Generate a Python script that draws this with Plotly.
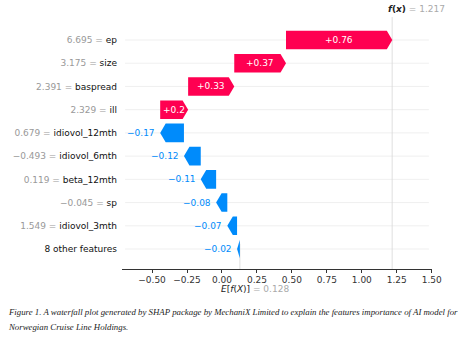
import plotly.graph_objects as go

# ---------------- data ----------------
features = ["ep", "size", "baspread", "ill", "idiovol_12mth", "idiovol_6mth",
            "beta_12mth", "sp", "idiovol_3mth", "8 other features"]
feature_values = ["6.695", "3.175", "2.391", "2.329", "0.679", "\u22120.493",
                  "0.119", "\u22120.045", "1.549", None]
shap_values = [0.76, 0.37, 0.33, 0.2, -0.17, -0.12, -0.11, -0.08, -0.07, -0.02]
base_value = 0.128
fx_value = 1.217
x_ticks = [-0.5, -0.25, 0.0, 0.25, 0.5, 0.75, 1.0, 1.25, 1.5]
caption_lines = [
    "Figure 1. A waterfall plot generated by SHAP package by MechaniX Limited to explain the features importance of AI model for",
    "Norwegian Cruise Line Holdings.",
]

# ---------------- styling ----------------
RED = "#ff0051"
BLUE = "#008bfb"
FONT = "DejaVu Sans"
W, H = 474, 348
ML, MR, MT, MB = 122, 42, 17, 79
XR = [-0.715, 1.502]
YR = [-0.86, 9.99]
px_per_unit = (W - ML - MR) / (XR[1] - XR[0])
head = 5.5 / px_per_unit
bh = 0.8

n = len(features)
ys = [n - 1 - i for i in range(n)]
starts = [0.0] * n
ends = [0.0] * n
cur = base_value
for i in range(n - 1, -1, -1):
    starts[i] = cur
    cur += shap_values[i]
    ends[i] = cur


def fmt(v):
    s = "{:+.2f}".format(v).rstrip("0").rstrip(".")
    return s.replace("-", "\u2212")


fig = go.Figure()
annotations = []
for i in range(n):
    s, e, y, v = starts[i], ends[i], ys[i], shap_values[i]
    d = 1 if v > 0 else -1
    color = RED if v > 0 else BLUE
    hl = min(head, abs(v))
    neck = e - d * hl
    xs = [s, neck, e, neck, s, s]
    yy = [y - bh / 2, y - bh / 2, y, y + bh / 2, y + bh / 2, y - bh / 2]
    fig.add_trace(go.Scatter(x=xs, y=yy, fill="toself", fillcolor=color,
                             line=dict(width=0), mode="lines",
                             hoverinfo="skip", showlegend=False))
    txt = fmt(v)
    bar_px = abs(v) * px_per_unit - hl * px_per_unit
    if bar_px > len(txt) * 5.2:
        annotations.append(dict(x=(s + e) / 2, y=y, xref="x", yref="y",
                                text=txt, showarrow=False,
                                font=dict(family=FONT, size=9, color="white")))
    else:
        if v < 0:
            annotations.append(dict(x=e, y=y, xref="x", yref="y", text=txt,
                                    showarrow=False, xanchor="right", xshift=-3,
                                    font=dict(family=FONT, size=9, color=BLUE)))
        else:
            annotations.append(dict(x=e, y=y, xref="x", yref="y", text=txt,
                                    showarrow=False, xanchor="left", xshift=3,
                                    font=dict(family=FONT, size=9, color=RED)))

ticktext = []
for f, fv in zip(features, feature_values):
    if fv is None:
        ticktext.append(f"<span style='color:#111'>{f}</span>")
    else:
        ticktext.append(f"<span style='color:#999'>{fv} = </span><span style='color:#111'>{f}</span>")

shapes = []
for y in ys:
    shapes.append(dict(type="line", xref="paper", yref="y", x0=0.01, x1=0.99,
                       y0=y, y1=y, line=dict(color="#e4e4e4", width=0.6),
                       layer="below"))
shapes.append(dict(type="line", xref="x", yref="paper", x0=fx_value, x1=fx_value,
                   y0=0, y1=1, line=dict(color="#d6d6d6", width=0.8), layer="below"))
shapes.append(dict(type="line", xref="x", yref="paper", x0=base_value, x1=base_value,
                   y0=0, y1=0.1, line=dict(color="#d6d6d6", width=0.8), layer="below"))

annotations.append(dict(x=fx_value, y=1, xref="x", yref="paper", xanchor="left",
                        yanchor="bottom", xshift=-6, yshift=1, showarrow=False,
                        text="<b><i>f</i>(<i>x</i>)</b><span style='color:#aaa'> = 1.217</span>",
                        font=dict(family=FONT, size=9, color="#222")))
annotations.append(dict(x=base_value, y=0, xref="x", yref="paper", xanchor="left",
                        yanchor="top", xshift=-21, yshift=-13, showarrow=False,
                        text="<i>E</i>[<i>f</i>(<i>X</i>)]<span style='color:#aaa'> = 0.128</span>",
                        font=dict(family=FONT, size=9, color="#222")))

pw = W - ML - MR
ph = H - MT - MB
for k, line in enumerate(caption_lines):
    ypx = 311.5 + 15 * k
    annotations.append(dict(x=(6 - ML) / pw, y=(H - MB - ypx) / ph, xref="paper",
                            yref="paper", xanchor="left", yanchor="middle",
                            showarrow=False, text=f"<i>{line}</i>",
                            font=dict(family="Liberation Serif", size=8.8, color="#222")))

fig.update_layout(
    width=W, height=H,
    margin=dict(l=ML, r=MR, t=MT, b=MB),
    paper_bgcolor="white", plot_bgcolor="white",
    font=dict(family=FONT, size=9, color="#333"),
    xaxis=dict(range=XR, tickvals=x_ticks, tickformat=".2f", showgrid=False,
               zeroline=False, showline=True, linecolor="#333", linewidth=1,
               ticks="outside", ticklen=3, tickcolor="#333", ticklabelstandoff=-1,
               tickfont=dict(family=FONT, size=9, color="#333")),
    yaxis=dict(range=YR, tickvals=ys, ticktext=ticktext, showgrid=False,
               zeroline=False, showline=False, ticks="", ticklabelstandoff=4,
               tickfont=dict(family=FONT, size=9)),
    shapes=shapes,
    annotations=annotations,
    showlegend=False,
)

fig.write_html("out.html")
